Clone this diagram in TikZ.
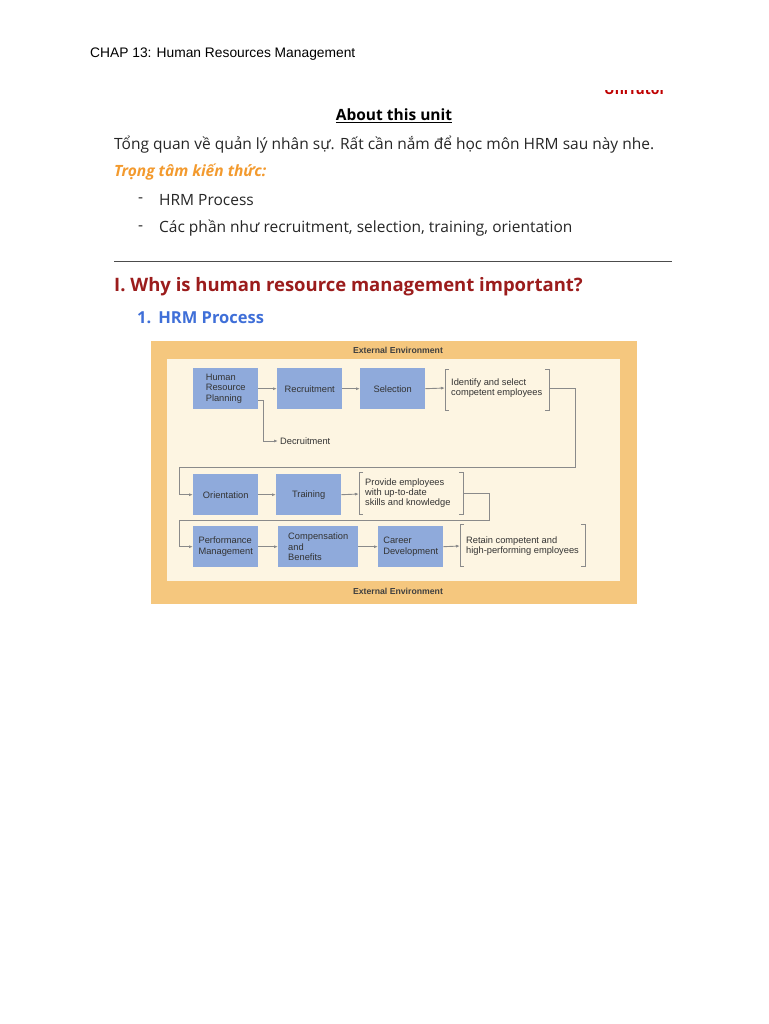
\documentclass[tikz,border=0pt]{standalone}
\usepackage{fontspec}
\setmainfont{Open Sans}
\newfontfamily\arialf{Liberation Sans}
\usetikzlibrary{arrows.meta}
\definecolor{orangebg}{HTML}{F5C77E}
\definecolor{creambg}{HTML}{FDF5E2}
\definecolor{boxblue}{HTML}{8FAADB}
\definecolor{linegray}{HTML}{8A8A8A}
\definecolor{hred}{HTML}{9B1C1C}
\definecolor{hblue}{HTML}{3F6FD8}
\definecolor{horange}{HTML}{F39A2E}
\tikzset{
  x=1pt,y=-1pt,
  proc/.style={fill=boxblue,draw=none,minimum height=41pt,align=left,font=\arialf\fontsize{9.3}{10.3}\selectfont,text=black!80,
     anchor=north west,inner xsep=4pt},
  brtext/.style={font=\arialf\fontsize{9.3}{10.3}\selectfont,align=left,text=black!80,anchor=west,inner xsep=2pt},
  conn/.style={draw=linegray,line width=0.9pt},
  arr/.style={conn,-{Latex[length=4pt,width=3pt]}},
  brk/.style={draw=linegray,line width=0.9pt},
  body/.style={anchor=west,font=\fontsize{15.5}{17}\selectfont,text=black!85},
}
\begin{document}
\begin{tikzpicture}
\useasboundingbox (0,0) rectangle (768,1024);
\fill[white] (0,0) rectangle (768,1024);
% header
\node[anchor=west,font=\arialf\fontsize{13.8}{15}\selectfont,inner sep=0pt] (hdr) at (90,54) {CHAP 13: Human Resources Management};
\begin{scope}
\clip (600,91) rectangle (670,100);
\node[anchor=west,font=\bfseries\fontsize{14}{15}\selectfont,text=red!75!black,inner sep=0pt] (logo) at (604,89) {UniTutor};
\end{scope}
\node[font=\bfseries\fontsize{15.5}{17}\selectfont] (about) at (394,116) {\underline{About this unit}};
\node[body,inner sep=0pt] (p1) at (114,145) {Tổng quan về quản lý nhân sự. Rất cần nắm để học môn HRM sau này nhe.};
\node[body,inner sep=0pt,font=\bfseries\itshape\fontsize{15.5}{17}\selectfont,text=horange] (p2) at (114,172) {Trọng tâm kiến thức:};
\node[body,inner sep=0pt] (d1) at (138,200) {-};
\node[body,inner sep=0pt] (b1) at (159,200) {HRM Process};
\node[body,inner sep=0pt] (d2) at (138,228) {-};
\node[body,inner sep=0pt] (b2) at (159,228) {Các phần như recruitment, selection, training, orientation};
\draw[black!70,line width=0.8pt] (114,261) -- (672,261);
\node[anchor=west,inner sep=0pt,font=\bfseries\fontsize{18.5}{20}\selectfont,text=hred] (h1) at (114,287) {I. Why is human resource management important?};
\node[anchor=west,inner sep=0pt,font=\bfseries\fontsize{16.5}{18}\selectfont,text=hblue] (h2) at (137,318) {1.\hspace{7pt}HRM Process};
% diagram background
\fill[orangebg] (151,341) rectangle (637,604);
\fill[creambg] (167,359) rectangle (620,581);
\node[font=\arialf\bfseries\fontsize{8.7}{9.5}\selectfont,text=black!75] (ext1) at (398,350) {External Environment};
\node[font=\arialf\bfseries\fontsize{8.7}{9.5}\selectfont,text=black!75] (ext2) at (398,591) {External Environment};
% row 1
\node[proc,minimum width=65pt] (hrp) at (193,368) {Human\\Resource\\Planning};
\node[proc,minimum width=65pt,align=center] (rec) at (277,368) {Recruitment};
\node[proc,minimum width=65pt,align=center] (sel) at (360,368) {Selection};
\node[brtext] (b1t) at (449,388) {Identify and select\\competent employees};
\draw[brk] (449,369) -- (445,369) -- (445,410) -- (449,410);
\draw[brk] (545,369) -- (549,369) -- (549,410) -- (545,410);
\draw[arr] (hrp.east) -- (rec.west);
\draw[arr] (rec.east) -- (sel.west);
\draw[arr] (sel.east) -- (445,388);
\node[brtext] (dec) at (278,441) {Decruitment};
\coordinate (hrpo) at (258,400);
\draw[arr] (hrpo) -- (263,400) |- (dec.west);
% row 2
\node[proc,minimum width=65pt,align=center] (ori) at (193,474) {Orientation};
\node[proc,minimum width=65pt,align=center] (tra) at (276,474) {Training};
\node[brtext] (b2t) at (363,493) {Provide employees\\with up-to-date\\skills and knowledge};
\draw[brk] (363,472) -- (359,472) -- (359,514) -- (363,514);
\draw[brk] (459,472) -- (463,472) -- (463,514) -- (459,514);
\coordinate (c1) at (549,388);
\draw[arr] (c1) -- (575,388) -- (575,467) -- (179,467) |- (ori.west);
\draw[arr] (ori.east) -- (tra.west);
\draw[arr] (tra.east) -- (359,494);
% row 3
\node[proc,minimum width=65pt] (perf) at (193,526) {Performance\\Management};
\node[proc,minimum width=80pt] (comp) at (278,526) {Compensation\\and\\Benefits};
\node[proc,minimum width=65pt] (car) at (378,526) {Career\\Development};
\node[brtext] (b3t) at (464,546) {Retain competent and\\high-performing employees};
\draw[brk] (464,524) -- (460,524) -- (460,566) -- (464,566);
\draw[brk] (581,524) -- (585,524) -- (585,566) -- (581,566);
\coordinate (c2) at (463,493);
\draw[arr] (c2) -- (489,493) -- (489,520) -- (179,520) |- (perf.west);
\draw[arr] (perf.east) -- (comp.west);
\draw[arr] (comp.east) -- (car.west);
\draw[arr] (car.east) -- (460,546);
\end{tikzpicture}
\end{document}
